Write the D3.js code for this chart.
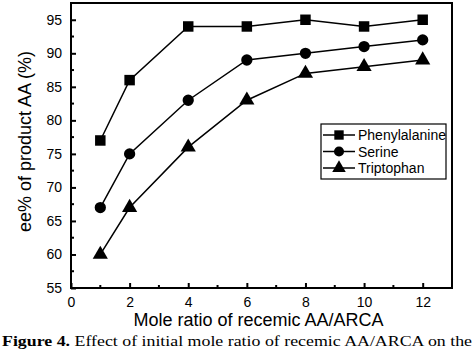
<!DOCTYPE html>
<html>
<head>
<meta charset="utf-8">
<script src="https://cdn.jsdelivr.net/npm/d3@7"></script>
<style>
  body { margin:0; background:#fff; }
  text { font-family: Arial, "Liberation Sans", sans-serif; fill:#000; }
  .caption { font-family: "Times New Roman", "Liberation Serif", serif; }
</style>
</head>
<body>
<script>
// mole ratio values and the three series
var ratios = [1, 2, 4, 6, 8, 10, 12];
var phenylalanine = [77, 86, 94, 94, 95, 94, 95];
var serine = [67, 75, 83, 89, 90, 91, 92];
var triptophan = [60, 67, 76, 83, 87, 88, 89];
var seriesNames = ["Phenylalanine", "Serine", "Triptophan"];
var xTicks = [0, 2, 4, 6, 8, 10, 12];
var yTicks = [55, 60, 65, 70, 75, 80, 85, 90, 95];

var window_w = 474, window_h = 351;
var margin = {left:71, top:3, right:22, bottom:63};
var frame_w = window_w - margin.left - margin.right;
var frame_h = window_h - margin.top - margin.bottom;

var xScale = d3.scaleLinear().domain([0, 13]).range([0, frame_w]);
var yScale = d3.scaleLinear().domain([55, 97.5]).range([frame_h, 0]);

var svg = d3.select("body").append("svg").attr("width", window_w).attr("height", window_h);
var g = svg.append("g").attr("transform", "translate(" + margin.left + "," + margin.top + ")");

// frame
g.append("rect").attr("width", frame_w).attr("height", frame_h)
  .attr("fill", "none").attr("stroke", "#000").attr("stroke-width", 2);

// x axis, ticks pointing inward
var xAxis = d3.axisBottom(xScale).tickValues(xTicks).tickSize(-5).tickPadding(9).tickFormat(d3.format("d"));
var xAxisG = g.append("g").attr("transform", "translate(0," + frame_h + ")").call(xAxis);
xAxisG.select(".domain").remove();
xAxisG.selectAll("line").attr("stroke-width", 2);
xAxisG.selectAll("text").style("font-size", "14px").attr("font-family", null);
g.append("g").attr("transform", "translate(0," + frame_h + ")")
  .selectAll("line").data([1, 3, 5, 7, 9, 11]).enter().append("line")
  .attr("x1", d => xScale(d)).attr("x2", d => xScale(d))
  .attr("y1", 0).attr("y2", -3).attr("stroke", "#000").attr("stroke-width", 2);

var yAxis = d3.axisLeft(yScale).tickValues(yTicks).tickSize(-5).tickPadding(9);
var yAxisG = g.append("g").call(yAxis);
yAxisG.select(".domain").remove();
yAxisG.selectAll("line").attr("stroke-width", 2);
yAxisG.selectAll("text").style("font-size", "14px").attr("font-family", null);
g.append("g").selectAll("line").data([57.5, 62.5, 67.5, 72.5, 77.5, 82.5, 87.5, 92.5]).enter().append("line")
  .attr("x1", 0).attr("x2", 3)
  .attr("y1", d => yScale(d)).attr("y2", d => yScale(d)).attr("stroke", "#000").attr("stroke-width", 2);

// axis titles
g.append("text").attr("x", frame_w / 2 - 3).attr("y", frame_h + 38)
  .style("text-anchor", "middle").style("font-size", "18px")
  .text("Mole ratio of recemic AA/ARCA");
g.append("text").attr("transform", "rotate(-90)")
  .attr("x", -frame_h / 2 + 4).attr("y", -40)
  .style("text-anchor", "middle").style("font-size", "18px")
  .text("ee% of product AA (%)");

// series
var allSeries = [phenylalanine, serine, triptophan];
var shapes = [d3.symbolSquare, d3.symbolCircle, d3.symbolTriangle];
var sizes = [110, 100, 100];
var line = d3.line().x((d, i) => xScale(ratios[i])).y(d => yScale(d));

allSeries.forEach(function (vals, k) {
  g.append("path").attr("d", line(vals)).attr("fill", "none")
    .attr("stroke", "#000").attr("stroke-width", 1.5);
  g.selectAll(".m" + k).data(vals).enter().append("path")
    .attr("class", "m" + k)
    .attr("transform", (d, i) => "translate(" + xScale(ratios[i]) + "," + yScale(d) + ")")
    .attr("d", d3.symbol().type(shapes[k]).size(sizes[k]))
    .attr("fill", "#000");
});

// legend
var lg = svg.append("g").attr("transform", "translate(321,124)");
lg.append("rect").attr("width", 125).attr("height", 55)
  .attr("fill", "#fff").attr("stroke", "#000").attr("stroke-width", 1.2);
seriesNames.forEach(function (name, k) {
  var yy = 11 + k * 16.5;
  lg.append("line").attr("x1", 2).attr("x2", 34).attr("y1", yy).attr("y2", yy)
    .attr("stroke", "#000").attr("stroke-width", 1.5);
  lg.append("path").attr("transform", "translate(18," + yy + ")")
    .attr("d", d3.symbol().type(shapes[k]).size(sizes[k] * 0.8)).attr("fill", "#000");
  lg.append("text").attr("x", 37).attr("y", yy + 5).style("font-size", "14px").text(name);
});

// caption at the bottom edge
var cap = svg.append("text").attr("class", "caption").attr("x", 2).attr("y", 346)
  .style("font-size", "15px").attr("textLength", 470).attr("lengthAdjust", "spacingAndGlyphs");
cap.append("tspan").style("font-weight", "bold").text("Figure 4.");
cap.append("tspan").text(" Effect of initial mole ratio of recemic AA/ARCA on the");
</script>
</body>
</html>
